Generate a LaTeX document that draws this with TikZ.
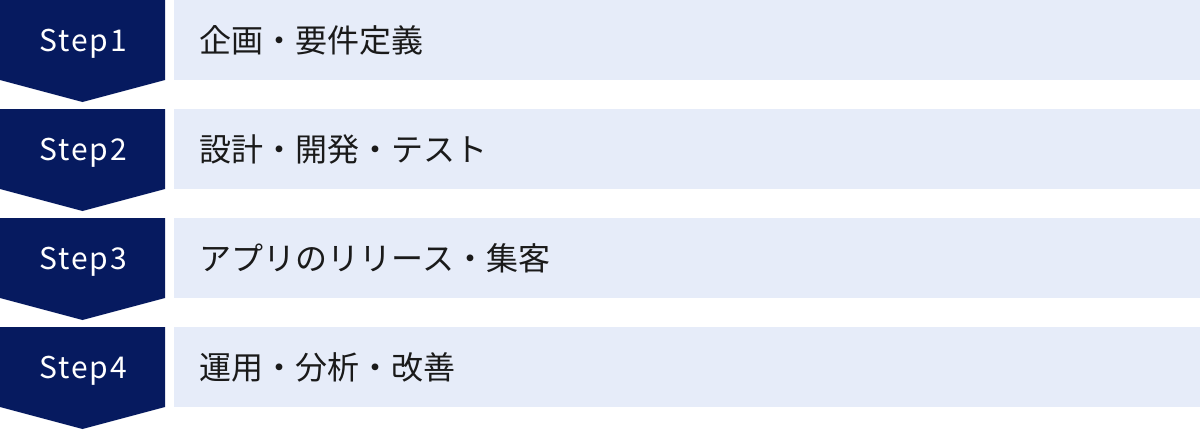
\documentclass[tikz,border=0pt]{standalone}
\usepackage{fontspec}
\setmainfont{Noto Sans}
\newfontfamily\jpfont{Noto Sans CJK JP}
\newfontfamily\stepfont[LetterSpace=6]{Noto Sans CJK JP}
\definecolor{navy}{HTML}{061A5F}
\definecolor{pale}{HTML}{E6ECF9}
\definecolor{ink}{HTML}{1A1A1A}
\begin{document}
\begin{tikzpicture}[x=1pt,y=-1pt,
  chev/.style={fill=navy,draw=none},
  band/.style={fill=pale,draw=none},
  steplabel/.style={text=white,font=\stepfont\fontsize{30}{30}\selectfont,anchor=base,inner sep=0pt},
  tasklabel/.style={text=ink,font=\jpfont\fontsize{32}{32}\selectfont,anchor=west,inner sep=0pt}]
\useasboundingbox (0,0) rectangle (1200,429);
\foreach \i/\txt [count=\k from 0] in {1/企画・要件定義,2/設計・開発・テスト,3/アプリのリリース・集客,4/運用・分析・改善}{
  \pgfmathsetmacro{\t}{109*\k}
  \fill[chev] (0,\t) -- (165,\t) -- (165,\t+80) -- (82.5,\t+102) -- (0,\t+80) -- cycle;
  \fill[band] (174,\t) rectangle (1200,\t+80);
  \node[steplabel] (s\i) at (83.4,\t+51) {Step\i};
  \node[tasklabel] (t\i) at (199.5,\t+40) {\txt};
}
\end{tikzpicture}
\end{document}
